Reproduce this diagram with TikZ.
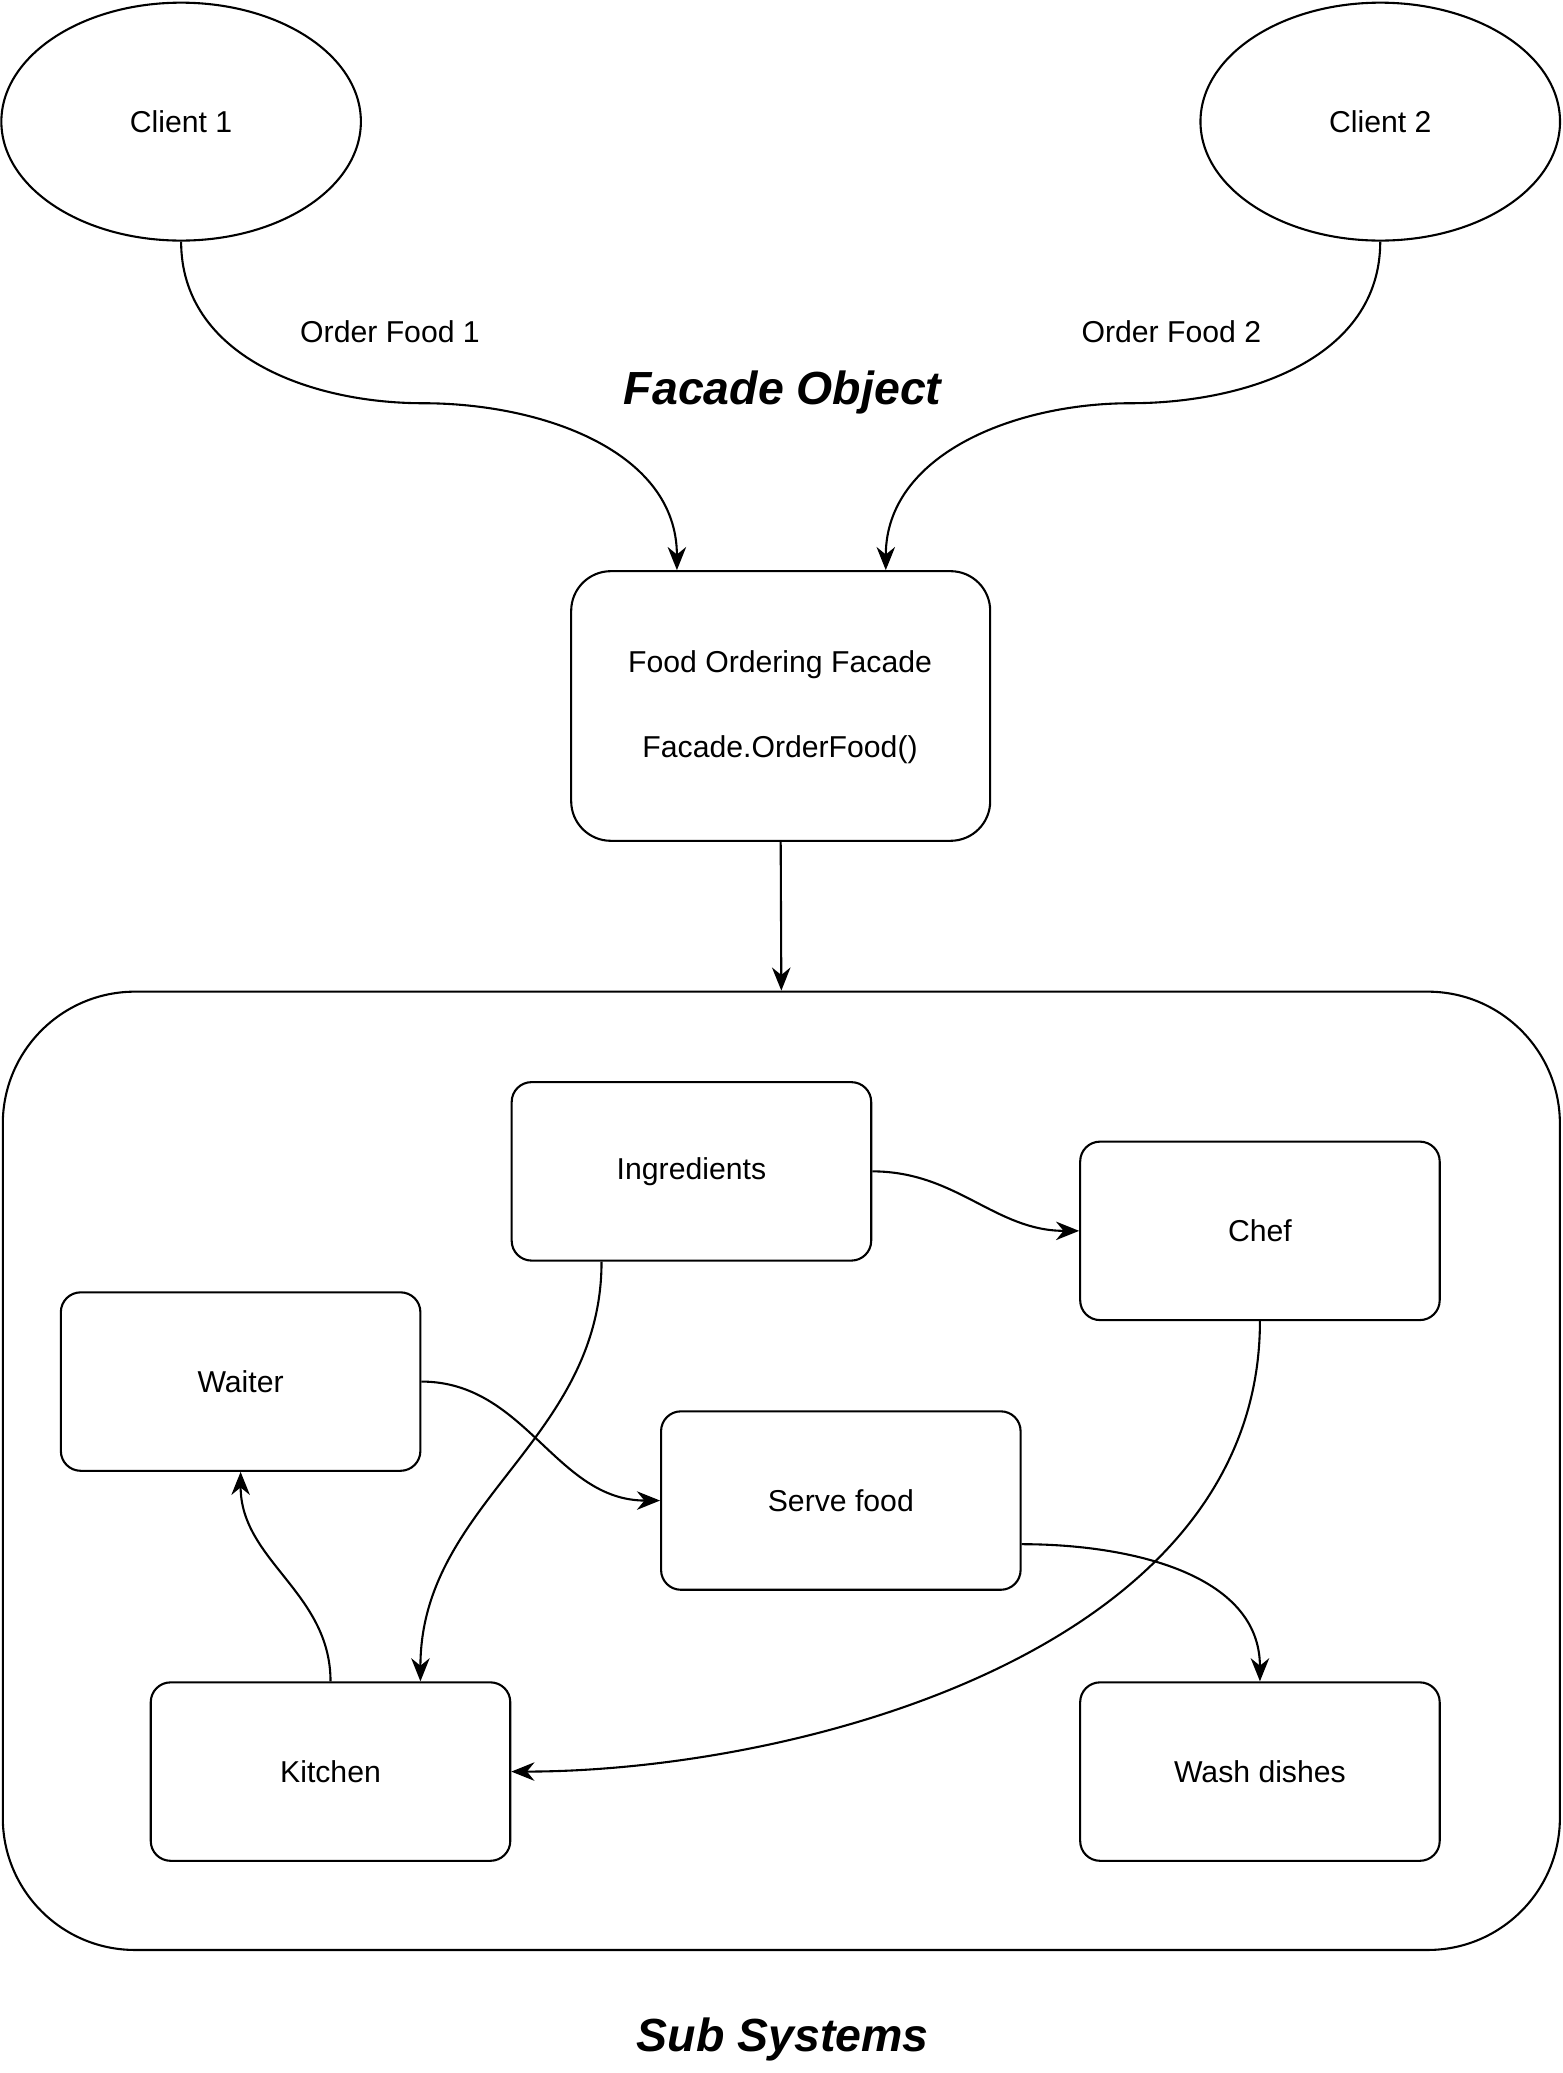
\documentclass[tikz,border=0pt]{standalone}
\usepackage{fontspec}
\setmainfont{Liberation Sans}
\usetikzlibrary{arrows.meta,shapes.geometric}
\tikzset{
	subbox/.style={draw,rounded corners=0.3cm,minimum width=5.44cm,minimum height=2.7cm,line width=0.9pt,font=\fontsize{13}{15}\selectfont},
	client/.style={draw,ellipse,minimum width=5.44cm,minimum height=3.6cm,line width=0.9pt,font=\fontsize{13}{15}\selectfont},
	lbl/.style={font=\fontsize{13}{15}\selectfont},
	title/.style={font=\fontsize{20}{24}\selectfont\bfseries\itshape},
	conn/.style={-{Stealth[length=0.35cm,width=0.28cm]},line width=0.9pt}
}
\begin{document}
\begin{tikzpicture}[x=0.02cm,y=-0.02cm]
	\useasboundingbox (0,0) rectangle (1182,1568);
	\node[client] (c1) at (137,92) {Client 1};
	\node[client] (c2) at (1044,92) {Client 2};
	\node[lbl] (o1) at (295,251) {Order Food 1};
	\node[lbl] (o2) at (886,251) {Order Food 2};
	\node[title] (fo) at (592,297) {Facade Object};
	\node[draw,rounded corners=0.6cm,minimum width=6.34cm,minimum height=4.08cm,line width=0.9pt] (fac) at (590.5,534) {};
	\node[lbl] (f1) at (590,503) {Food Ordering Facade};
	\node[lbl] (f2) at (590,567) {Facade.OrderFood()};
	\node[draw,rounded corners=2cm,minimum width=23.56cm,minimum height=14.5cm,line width=0.9pt] (sys) at (591,1112.5) {};
	\node[title] (ss) at (592,1543) {Sub Systems};
	\node[subbox] (ing) at (523,886) {Ingredients};
	\node[subbox] (chef) at (953,931) {Chef};
	\node[subbox] (wait) at (182,1045) {Waiter};
	\node[subbox] (serve) at (636,1135) {Serve food};
	\node[subbox] (kit) at (250,1340) {Kitchen};
	\node[subbox] (wash) at (953,1340) {Wash dishes};
	\coordinate (m1) at (320,305);
	\coordinate (m2) at (855,305);
	% clients to facade
	\draw[conn] (c1.south) to[out=-90,in=180] (m1) to[out=0,in=90] (fac.north -| 512,0);
	\draw[conn] (c2.south) to[out=-90,in=0] (m2) to[out=180,in=90] (fac.north -| 670,0);
	\draw[conn] (fac.south) -- (sys.north);
	% sub systems
	\draw[conn] (ing.east |- 0,886) to[out=0,in=180] (chef.west);
	\draw[conn] (ing.south -| 455,0) to[out=-90,in=90] (kit.north -| 318,0);
	\draw[conn] (wait.east) to[out=0,in=180] (serve.west);
	\draw[conn] (chef.south) .. controls (953,1250) and (600,1340) .. (kit.east);
	\draw[conn] (serve.east |- 0,1168) to[out=0,in=90] (wash.north);
	\draw[conn] (kit.north) to[out=90,in=-90] (wait.south);
\end{tikzpicture}
\end{document}
